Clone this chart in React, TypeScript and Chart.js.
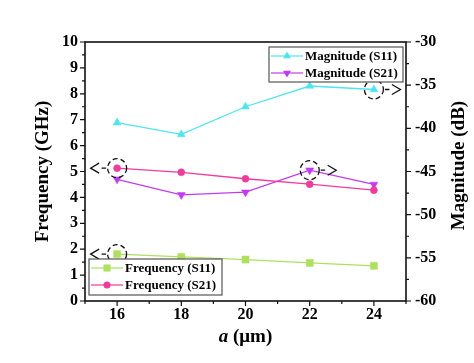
import React, { useEffect, useRef } from 'react';
import { Chart, registerables } from 'chart.js';

Chart.register(...registerables);

// ---- data ----
const aValues = [16, 18, 20, 22, 24];
const freqS11 = [1.81, 1.7, 1.6, 1.47, 1.36];
const freqS21 = [5.13, 4.97, 4.72, 4.51, 4.28];
const magS11 = [-39.35, -40.7, -37.5, -35.1, -35.5];
const magS21 = [-45.9, -47.7, -47.4, -44.85, -46.5];

const xTickValues = [16, 18, 20, 22, 24];
const leftTickValues = [0, 1, 2, 3, 4, 5, 6, 7, 8, 9, 10];
const rightTickValues = [-60, -55, -50, -45, -40, -35, -30];

const FONT = "'Liberation Serif', 'Times New Roman', serif";

const COLORS = {
  magS11: '#50E4EE',
  magS21: '#C43AF2',
  freqS21: '#EE3C9C',
  freqS11: '#AEE05E',
};

// annotations: which dataset/point gets a dashed circle and arrow direction
const annotations = [
  { dataset: 1, index: 0, dir: 'left' },
  { dataset: 0, index: 0, dir: 'left' },
  { dataset: 3, index: 3, dir: 'right' },
  { dataset: 2, index: 4, dir: 'right' },
];

function drawMarker(ctx: CanvasRenderingContext2D, style: string, x: number, y: number, r: number, rot: number, color: string) {
  ctx.save();
  ctx.fillStyle = color;
  ctx.strokeStyle = color;
  ctx.beginPath();
  if (style === 'circle') {
    ctx.arc(x, y, r, 0, Math.PI * 2);
  } else if (style === 'rect') {
    const s = Math.SQRT1_2 * r;
    ctx.rect(x - s, y - s, 2 * s, 2 * s);
  } else if (style === 'triangle') {
    const sign = rot === 180 ? -1 : 1;
    ctx.moveTo(x, y - sign * r);
    ctx.lineTo(x + r * 0.866, y + sign * r * 0.5);
    ctx.lineTo(x - r * 0.866, y + sign * r * 0.5);
    ctx.closePath();
  }
  ctx.fill();
  ctx.restore();
}

const decorPlugin = {
  id: 'decor',
  afterDraw(chart: any) {
    const ctx: CanvasRenderingContext2D = chart.ctx;
    const { left, right, top, bottom } = chart.chartArea;
    const xs = chart.scales.x;
    const ys = chart.scales.y;
    const y1 = chart.scales.y1;
    ctx.save();
    // frame
    ctx.strokeStyle = '#111';
    ctx.lineWidth = 1.6;
    ctx.strokeRect(left, top, right - left, bottom - top);

    // ticks
    ctx.lineWidth = 1.2;
    ctx.beginPath();
    for (let v = 0; v <= 10.001; v += 0.5) {
      const p = ys.getPixelForValue(v);
      const len = Math.abs(v - Math.round(v)) < 1e-6 ? 5 : 3;
      ctx.moveTo(left - len, p);
      ctx.lineTo(left, p);
    }
    for (let v = -60; v <= -29.99; v += 2.5) {
      const p = y1.getPixelForValue(v);
      const len = Math.abs(v / 5 - Math.round(v / 5)) < 1e-6 ? 5 : 3;
      ctx.moveTo(right, p);
      ctx.lineTo(right + len, p);
    }
    for (let v = 15; v <= 25; v += 1) {
      const p = xs.getPixelForValue(v);
      const len = v % 2 === 0 ? 5 : 3;
      ctx.moveTo(p, bottom);
      ctx.lineTo(p, bottom + len);
    }
    ctx.stroke();

    // axis titles
    ctx.fillStyle = '#000';
    ctx.textBaseline = 'middle';
    ctx.textAlign = 'center';
    ctx.font = `bold 19px ${FONT}`;
    const midY = (top + bottom) / 2;
    ctx.save();
    ctx.translate(43, midY);
    ctx.rotate(-Math.PI / 2);
    ctx.fillText('Frequency (GHz)', 0, 0);
    ctx.restore();
    ctx.save();
    ctx.translate(459, midY - 6);
    ctx.rotate(-Math.PI / 2);
    ctx.fillText('Magnitude (dB)', 0, 0);
    ctx.restore();

    // x title with italic a
    const part1 = 'a';
    const part2 = ' (μm)';
    ctx.font = `italic bold 19px ${FONT}`;
    const w1 = ctx.measureText(part1).width;
    ctx.font = `bold 19px ${FONT}`;
    const w2 = ctx.measureText(part2).width;
    const cx = (left + right) / 2;
    const ty = 337;
    ctx.textAlign = 'left';
    ctx.font = `italic bold 19px ${FONT}`;
    ctx.fillText(part1, cx - (w1 + w2) / 2, ty);
    ctx.font = `bold 19px ${FONT}`;
    ctx.fillText(part2, cx - (w1 + w2) / 2 + w1, ty);

    // annotations
    ctx.strokeStyle = '#111';
    annotations.forEach((a) => {
      const meta = chart.getDatasetMeta(a.dataset);
      const el = meta.data[a.index];
      const px = el.x;
      const py = el.y;
      const r = 9.5;
      ctx.lineWidth = 1.3;
      ctx.setLineDash([5, 3]);
      ctx.beginPath();
      ctx.arc(px, py, r, 0, Math.PI * 2);
      ctx.stroke();
      ctx.setLineDash([]);
      const s = a.dir === 'left' ? -1 : 1;
      ctx.beginPath();
      ctx.moveTo(px + s * 11, py);
      ctx.lineTo(px + s * 15.5, py);
      ctx.moveTo(px + s * 18, py - 5);
      ctx.lineTo(px + s * 26.5, py);
      ctx.lineTo(px + s * 18, py + 5);
      ctx.stroke();
    });

    // legends
    const legends = [
      { x: right - 137, y: top + 5, w: 134, h: 35, items: [2, 3] },
      { x: left + 4, y: bottom - 42, w: 133, h: 36, items: [0, 1] },
    ];
    legends.forEach((lg) => {
      ctx.fillStyle = '#fff';
      ctx.fillRect(lg.x, lg.y, lg.w, lg.h);
      ctx.strokeStyle = '#555';
      ctx.lineWidth = 1.2;
      ctx.strokeRect(lg.x, lg.y, lg.w, lg.h);
      lg.items.forEach((di, k) => {
        const ds = chart.data.datasets[di];
        const rowY = lg.y + 9 + k * 17;
        ctx.strokeStyle = ds.borderColor;
        ctx.lineWidth = 1.2;
        ctx.beginPath();
        ctx.moveTo(lg.x + 2, rowY);
        ctx.lineTo(lg.x + 34, rowY);
        ctx.stroke();
        drawMarker(ctx, ds.pointStyle, lg.x + 18, rowY, ds.pointRadius, ds.pointRotation || 0, ds.borderColor);
        ctx.fillStyle = '#000';
        ctx.font = `bold 13px ${FONT}`;
        ctx.textAlign = 'left';
        ctx.textBaseline = 'middle';
        ctx.fillText(ds.label, lg.x + 36, rowY + 0.5);
      });
    });
    ctx.restore();
  },
};

const tickFont = { family: FONT, size: 16, weight: 'bold' as const };

export default function App() {
  const ref = useRef<HTMLCanvasElement | null>(null);
  useEffect(() => {
    if (!ref.current) return;
    const mk = (label: string, ys: number[], color: string, style: string, radius: number, axis: string, rot = 0) => ({
      label,
      data: aValues.map((x, i) => ({ x, y: ys[i] })),
      yAxisID: axis,
      borderColor: color,
      backgroundColor: color,
      pointBackgroundColor: color,
      pointBorderColor: color,
      pointStyle: style,
      pointRadius: radius,
      pointRotation: rot,
      pointBorderWidth: 0.5,
      borderWidth: 1.3,
      tension: 0,
      fill: false,
    });
    const noGrid = { display: false, drawTicks: false, drawOnChartArea: false };
    const chart = new Chart(ref.current, {
      type: 'line',
      data: {
        datasets: [
          mk('Frequency (S11)', freqS11, COLORS.freqS11, 'rect', 5, 'y'),
          mk('Frequency (S21)', freqS21, COLORS.freqS21, 'circle', 3.5, 'y'),
          mk('Magnitude (S11)', magS11, COLORS.magS11, 'triangle', 4.6, 'y1'),
          mk('Magnitude (S21)', magS21, COLORS.magS21, 'triangle', 4.6, 'y1', 180),
        ] as any,
      },
      options: {
        responsive: false,
        animation: false,
        layout: { padding: { top: 42, left: 0, right: 0, bottom: 0 } },
        plugins: { legend: { display: false }, tooltip: { enabled: false } },
        scales: {
          x: {
            type: 'linear',
            min: 15,
            max: 25,
            afterBuildTicks: (s: any) => {
              s.ticks = xTickValues.map((v) => ({ value: v }));
            },
            afterFit: (s: any) => {
              s.height = 62;
            },
            grid: noGrid,
            border: { display: false },
            ticks: { padding: 4, color: '#000', font: tickFont, autoSkip: false, maxRotation: 0, callback: (v: any) => String(v) },
          },
          y: {
            type: 'linear',
            position: 'left',
            min: 0,
            max: 10,
            afterBuildTicks: (s: any) => {
              s.ticks = leftTickValues.map((v) => ({ value: v }));
            },
            afterFit: (s: any) => {
              s.width = 85;
            },
            grid: noGrid,
            border: { display: false },
            ticks: { padding: 7, color: '#000', font: tickFont, autoSkip: false, callback: (v: any) => String(v) },
          },
          y1: {
            type: 'linear',
            position: 'right',
            min: -60,
            max: -30,
            afterBuildTicks: (s: any) => {
              s.ticks = rightTickValues.map((v) => ({ value: v }));
            },
            afterFit: (s: any) => {
              s.width = 68;
            },
            grid: noGrid,
            border: { display: false },
            ticks: { padding: 9, color: '#000', font: tickFont, autoSkip: false, callback: (v: any) => String(v) },
          },
        },
      } as any,
      plugins: [decorPlugin],
    });
    return () => chart.destroy();
  }, []);
  return (
    <div style={{ position: 'absolute', left: 0, top: 0, width: 474, height: 363, background: '#fff' }}>
      <canvas ref={ref} width={474} height={363} style={{ display: 'block' }} />
    </div>
  );
}
